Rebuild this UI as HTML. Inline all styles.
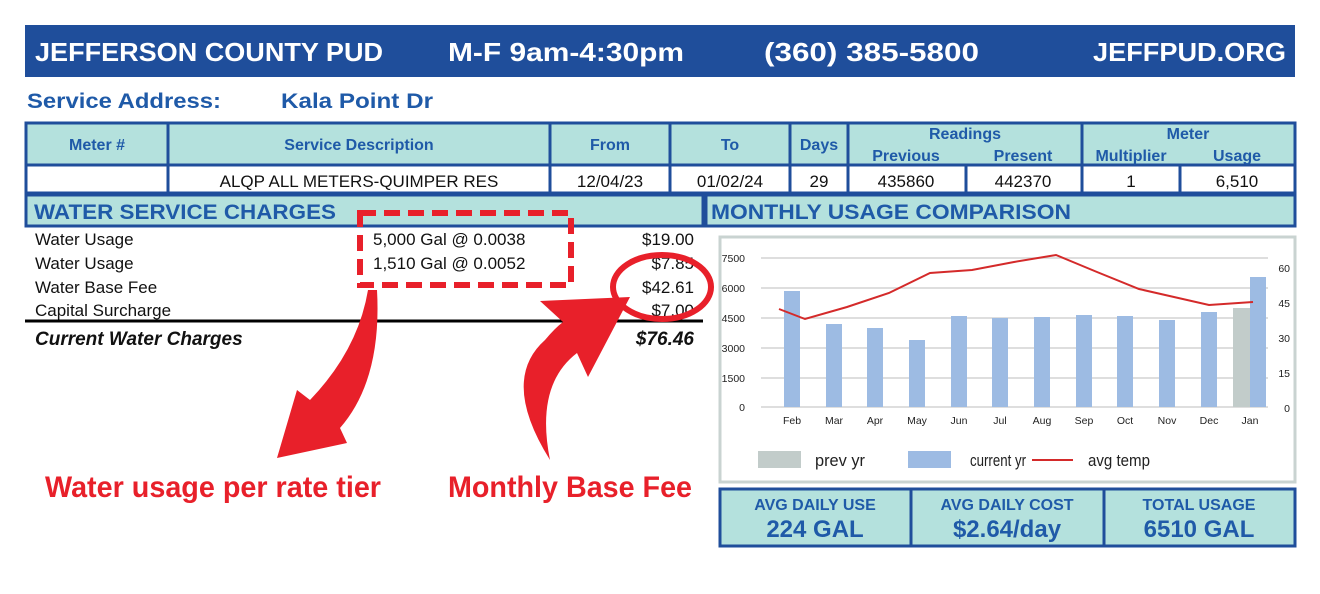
<!DOCTYPE html>
<html><head><meta charset="utf-8"><style>html,body{margin:0;padding:0;background:#fff}svg{display:block}</style></head>
<body>
<svg width="1320" height="594" viewBox="0 0 1320 594" xmlns="http://www.w3.org/2000/svg" font-family="Liberation Sans, DejaVu Sans, sans-serif">
<rect width="1320" height="594" fill="#fff"/>
<rect x="25" y="25" width="1270" height="52" fill="#1f4e9b"/>
<g fill="#fff" font-weight="bold" font-size="26">
<text x="35" y="61" textLength="348" lengthAdjust="spacingAndGlyphs">JEFFERSON COUNTY PUD</text>
<text x="448" y="61" textLength="236" lengthAdjust="spacingAndGlyphs">M-F 9am-4:30pm</text>
<text x="764" y="61" textLength="215" lengthAdjust="spacingAndGlyphs">(360) 385-5800</text>
<text x="1093" y="61" textLength="193" lengthAdjust="spacingAndGlyphs">JEFFPUD.ORG</text>
</g>
<g fill="#1f5aa8" font-weight="bold" font-size="21">
<text x="27" y="108" textLength="194" lengthAdjust="spacingAndGlyphs">Service Address:</text>
<text x="281" y="108" textLength="152" lengthAdjust="spacingAndGlyphs">Kala Point Dr</text>
</g>
<rect x="26" y="123" width="1269" height="42" fill="#b4e1dd"/>
<rect x="26" y="196" width="677" height="30" fill="#b4e1dd"/>
<rect x="706" y="196" width="589" height="30" fill="#b4e1dd"/>
<g stroke="#1f4e9b" stroke-width="3" fill="none">
<rect x="26" y="123" width="1269" height="70"/>
<line x1="26" y1="165" x2="1295" y2="165"/>
<rect x="26" y="195" width="677" height="31"/>
<rect x="706" y="195" width="589" height="31"/>
<line x1="168" y1="123" x2="168" y2="193"/><line x1="550" y1="123" x2="550" y2="193"/>
<line x1="670" y1="123" x2="670" y2="193"/><line x1="790" y1="123" x2="790" y2="193"/>
<line x1="848" y1="123" x2="848" y2="193"/><line x1="966" y1="165" x2="966" y2="193"/>
<line x1="1082" y1="123" x2="1082" y2="193"/><line x1="1180" y1="165" x2="1180" y2="193"/>
</g>
<g fill="#1f5aa8" font-weight="bold" font-size="16" text-anchor="middle">
<text x="97" y="150">Meter #</text>
<text x="359" y="150">Service Description</text>
<text x="610" y="150">From</text>
<text x="730" y="150">To</text>
<text x="819" y="150">Days</text>
<text x="965" y="139">Readings</text>
<text x="906" y="161">Previous</text>
<text x="1023" y="161">Present</text>
<text x="1188" y="139">Meter</text>
<text x="1131" y="161">Multiplier</text>
<text x="1237" y="161">Usage</text>
</g>
<g fill="#111" font-size="17" text-anchor="middle">
<text x="359" y="187">ALQP ALL METERS-QUIMPER RES</text>
<text x="610" y="187">12/04/23</text>
<text x="730" y="187">01/02/24</text>
<text x="819" y="187">29</text>
<text x="906" y="187">435860</text>
<text x="1023" y="187">442370</text>
<text x="1131" y="187">1</text>
<text x="1237" y="187">6,510</text>
</g>
<g fill="#1f5aa8" font-weight="bold" font-size="21">
<text x="34" y="219" textLength="302" lengthAdjust="spacingAndGlyphs">WATER SERVICE CHARGES</text>
<text x="711" y="219" textLength="360" lengthAdjust="spacingAndGlyphs">MONTHLY USAGE COMPARISON</text>
</g>
<g fill="#111" font-size="17">
<text x="35" y="245">Water Usage</text>
<text x="35" y="269">Water Usage</text>
<text x="35" y="293">Water Base Fee</text>
<text x="35" y="316">Capital Surcharge</text>
<text x="373" y="245">5,000 Gal @ 0.0038</text>
<text x="373" y="269">1,510 Gal @ 0.0052</text>
<g text-anchor="end"><text x="694" y="245">$19.00</text><text x="694" y="269">$7.85</text><text x="694" y="293">$42.61</text><text x="694" y="316">$7.00</text></g>
</g>
<line x1="25" y1="321" x2="703" y2="321" stroke="#000" stroke-width="3"/>
<g fill="#111" font-size="19" font-weight="bold" font-style="italic">
<text x="35" y="345">Current Water Charges</text>
<text x="694" y="345" text-anchor="end">$76.46</text>
</g>
<rect x="360" y="213" width="211" height="72" fill="none" stroke="#e8202a" stroke-width="6" stroke-dasharray="16,8"/>
<ellipse cx="662" cy="287" rx="49" ry="32" fill="none" stroke="#e8202a" stroke-width="6"/>
<path d="M368,290 L377,290 Q382,380 340,428 L347,443 L277,458 L297,390 L310,400 Q358,350 368,290 Z" fill="#e8202a"/>
<path d="M550,460 Q500,380 545,340 Q555,328 563,322 L540,301 L630,297 L588,377 L577,353 Q535,385 550,460 Z" fill="#e8202a"/>
<g fill="#e8202a" font-weight="bold" font-size="30">
<text x="45" y="497" textLength="336" lengthAdjust="spacingAndGlyphs">Water usage per rate tier</text>
<text x="448" y="497" textLength="244" lengthAdjust="spacingAndGlyphs">Monthly Base Fee</text>
</g>
<rect x="720" y="237" width="575" height="245" fill="#fff" stroke="#c9d3d1" stroke-width="3"/>
<g stroke="#d4d4d4" stroke-width="1.5">
<line x1="761" y1="258" x2="1268" y2="258"/><line x1="761" y1="288" x2="1268" y2="288"/>
<line x1="761" y1="318" x2="1268" y2="318"/><line x1="761" y1="348" x2="1268" y2="348"/>
<line x1="761" y1="378" x2="1268" y2="378"/><line x1="761" y1="407" x2="1268" y2="407"/>
</g>
<g fill="#222" font-size="10.5" text-anchor="end">
<text x="745" y="262">7500</text><text x="745" y="292">6000</text><text x="745" y="322">4500</text>
<text x="745" y="352">3000</text><text x="745" y="382">1500</text><text x="745" y="411">0</text>
</g>
<g fill="#222" font-size="10.5" text-anchor="end">
<text x="1290" y="272">60</text><text x="1290" y="307">45</text><text x="1290" y="342">30</text>
<text x="1290" y="377">15</text><text x="1290" y="412">0</text>
</g>
<g fill="#9dbbe3">
<rect x="784" y="291" width="16" height="116"/>
<rect x="826" y="324" width="16" height="83"/>
<rect x="867" y="328" width="16" height="79"/>
<rect x="909" y="340" width="16" height="67"/>
<rect x="951" y="316" width="16" height="91"/>
<rect x="992" y="318" width="16" height="89"/>
<rect x="1034" y="317" width="16" height="90"/>
<rect x="1076" y="315" width="16" height="92"/>
<rect x="1117" y="316" width="16" height="91"/>
<rect x="1159" y="320" width="16" height="87"/>
<rect x="1201" y="312" width="16" height="95"/>
<rect x="1250" y="277" width="16" height="130"/>
</g>
<rect x="1233" y="308" width="17" height="99" fill="#c2ccca"/>
<polyline fill="none" stroke="#d42a2a" stroke-width="2" points="779,309 805,319 847,307 889,293 930,273 972,270 1014,262 1056,255 1097,272 1139,289 1209,305 1253,302"/>
<g fill="#222" font-size="10.5" text-anchor="middle">
<text x="792" y="424">Feb</text><text x="834" y="424">Mar</text><text x="875" y="424">Apr</text>
<text x="917" y="424">May</text><text x="959" y="424">Jun</text><text x="1000" y="424">Jul</text>
<text x="1042" y="424">Aug</text><text x="1084" y="424">Sep</text><text x="1125" y="424">Oct</text>
<text x="1167" y="424">Nov</text><text x="1209" y="424">Dec</text><text x="1250" y="424">Jan</text>
</g>
<rect x="758" y="451" width="43" height="17" fill="#c2ccca"/>
<rect x="908" y="451" width="43" height="17" fill="#9dbbe3"/>
<line x1="1032" y1="460" x2="1073" y2="460" stroke="#d42a2a" stroke-width="2"/>
<g fill="#222" font-size="17">
<text x="815" y="466" textLength="50" lengthAdjust="spacingAndGlyphs">prev yr</text>
<text x="970" y="466" textLength="56" lengthAdjust="spacingAndGlyphs">current yr</text>
<text x="1088" y="466" textLength="62" lengthAdjust="spacingAndGlyphs">avg temp</text>
</g>
<rect x="720" y="489" width="575" height="57" fill="#b4e1dd" stroke="#1f4e9b" stroke-width="3"/>
<line x1="911" y1="489" x2="911" y2="546" stroke="#1f4e9b" stroke-width="3"/>
<line x1="1104" y1="489" x2="1104" y2="546" stroke="#1f4e9b" stroke-width="3"/>
<g fill="#1f5aa8" font-weight="bold" text-anchor="middle">
<text x="815" y="510" font-size="16">AVG DAILY USE</text>
<text x="1007" y="510" font-size="16">AVG DAILY COST</text>
<text x="1199" y="510" font-size="16">TOTAL USAGE</text>
<text x="815" y="537" font-size="24">224 GAL</text>
<text x="1007" y="537" font-size="24">$2.64/day</text>
<text x="1199" y="537" font-size="24">6510 GAL</text>
</g>
</svg>
</body></html>
